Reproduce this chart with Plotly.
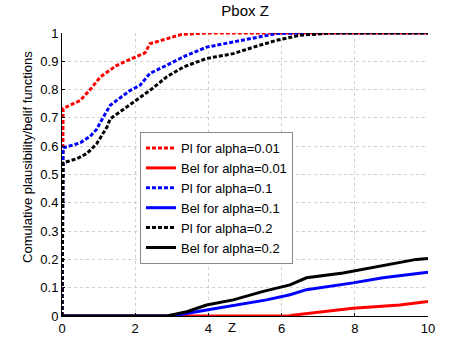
import plotly.graph_objects as go

# Plausibility (Pl) curves
pl001_x = [0, 0.03, 0.5, 0.77, 1.05, 1.5, 2.0, 2.27, 2.4, 2.86, 3.27, 3.95, 10]
pl001_y = [0, 0.733, 0.762, 0.80, 0.845, 0.886, 0.915, 0.93, 0.962, 0.98, 0.995, 1.0, 1.0]

pl01_x = [0, 0.03, 0.5, 0.77, 0.95, 1.05, 1.32, 1.86, 2.13, 2.4, 2.86, 3.4, 3.95, 4.68, 5.23, 5.86, 6.5, 10]
pl01_y = [0, 0.594, 0.612, 0.635, 0.66, 0.685, 0.745, 0.797, 0.815, 0.857, 0.886, 0.921, 0.95, 0.968, 0.98, 0.998, 1.0, 1.0]

pl02_x = [0, 0.03, 0.41, 0.68, 0.95, 1.23, 1.32, 1.77, 2.4, 2.86, 3.32, 3.95, 4.68, 5.23, 5.86, 6.5, 7.4, 10]
pl02_y = [0, 0.541, 0.556, 0.574, 0.609, 0.668, 0.697, 0.738, 0.797, 0.845, 0.88, 0.91, 0.927, 0.95, 0.974, 0.992, 1.0, 1.0]

# Belief (Bel) curves
bel001_x = [0, 6.2, 6.3, 7.6, 7.95, 9.23, 10]
bel001_y = [0, 0.0, 0.003, 0.021, 0.027, 0.039, 0.051]

bel01_x = [0, 3.0, 3.95, 4.68, 5.59, 6.23, 6.68, 7.95, 8.77, 10]
bel01_y = [0, 0.0, 0.021, 0.036, 0.057, 0.075, 0.093, 0.117, 0.135, 0.155]

bel02_x = [0, 2.86, 3.41, 3.95, 4.68, 5.5, 6.23, 6.68, 7.68, 8.77, 9.68, 10]
bel02_y = [0, 0.0, 0.015, 0.039, 0.057, 0.087, 0.11, 0.135, 0.152, 0.178, 0.2, 0.203]

x_ticks = [0, 2, 4, 6, 8, 10]
y_ticks = [0, 0.1, 0.2, 0.3, 0.4, 0.5, 0.6, 0.7, 0.8, 0.9, 1]
y_tick_labels = ["0", "0.1", "0.2", "0.3", "0.4", "0.5", "0.6", "0.7", "0.8", "0.9", "1"]

FONT = "Liberation Sans, Arial, sans-serif"
DASH = "4px,2px"

series = [
    ("Pl for alpha=0.01", pl001_x, pl001_y, "#ff0000", DASH),
    ("Bel for alpha=0.01", bel001_x, bel001_y, "#ff0000", "solid"),
    ("Pl for alpha=0.1", pl01_x, pl01_y, "#0000ff", DASH),
    ("Bel for alpha=0.1", bel01_x, bel01_y, "#0000ff", "solid"),
    ("Pl for alpha=0.2", pl02_x, pl02_y, "#000000", DASH),
    ("Bel for alpha=0.2", bel02_x, bel02_y, "#000000", "solid"),
]

fig = go.Figure()
for name, xs, ys, col, dash in series:
    fig.add_trace(go.Scatter(
        x=xs, y=ys, mode="lines", name=name,
        line=dict(color=col, width=3, dash=dash),
        cliponaxis=False,
    ))

fig.update_layout(
    width=474, height=355,
    margin=dict(l=62, r=46, t=33, b=39),
    paper_bgcolor="white", plot_bgcolor="white",
    font=dict(family=FONT, size=13, color="black"),
    title=dict(text="Pbox Z", x=0.517, xanchor="center", y=0.969, yanchor="middle",
               font=dict(family=FONT, size=15, color="black")),
    showlegend=True,
    legend=dict(
        x=0.213, y=0.65, xanchor="left", yanchor="top",
        bgcolor="white", bordercolor="#888888", borderwidth=1,
        font=dict(family=FONT, size=13, color="black"),
        tracegroupgap=0, itemwidth=30,
        entrywidth=130, entrywidthmode="pixels",
    ),
    xaxis=dict(
        range=[0, 10], tickvals=x_ticks, ticktext=[str(v) for v in x_ticks],
        showgrid=True, gridcolor="#d0d0d0", griddash="dot", gridwidth=1,
        showline=True, linecolor="black", linewidth=1,
        ticks="inside", ticklen=3, tickcolor="black",
        zeroline=False, tickfont=dict(family=FONT, size=13, color="black"),
    ),
    yaxis=dict(
        range=[0, 1], tickvals=y_ticks, ticktext=y_tick_labels,
        showgrid=True, gridcolor="#d0d0d0", griddash="dot", gridwidth=1,
        showline=True, linecolor="black", linewidth=1,
        ticks="inside", ticklen=3, tickcolor="black",
        zeroline=False, tickfont=dict(family=FONT, size=13, color="black"),
    ),
    annotations=[
        dict(text="Z", xref="x", yref="paper", x=4.64, y=-0.042, xanchor="center", yanchor="middle",
             showarrow=False, font=dict(family=FONT, size=13, color="black")),
        dict(text="Comulative plausibility/belif functions", xref="paper", yref="paper",
             x=-0.093, y=0.562, xanchor="center", yanchor="middle", textangle=-90,
             showarrow=False, font=dict(family=FONT, size=13, color="black")),
    ],
)

fig.write_html("out.html", config={"displayModeBar": False},
               post_script="document.body.style.margin='0';")
